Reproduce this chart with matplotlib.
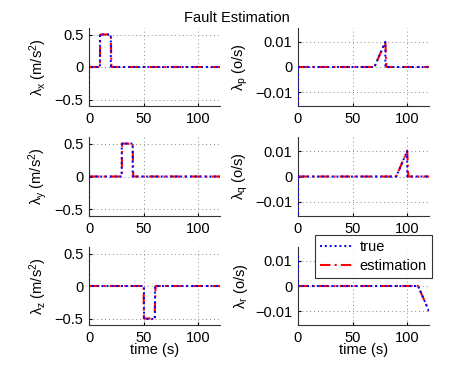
import matplotlib
matplotlib.use("Agg")
import matplotlib.pyplot as plt

plt.rcParams['font.family'] = ['Liberation Sans', 'DejaVu Sans']
plt.rcParams['mathtext.fontset'] = 'custom'
plt.rcParams['mathtext.rm'] = 'Liberation Sans'
plt.rcParams['mathtext.it'] = 'Liberation Sans'
plt.rcParams['axes.unicode_minus'] = True

title = "Fault Estimation"
ylabels = [r"$\lambda_x$ (m/s$^2$)", r"$\lambda_p$ (o/s)",
           r"$\lambda_y$ (m/s$^2$)", r"$\lambda_q$ (o/s)",
           r"$\lambda_z$ (m/s$^2$)", r"$\lambda_r$ (o/s)"]
xlabel = "time (s)"
xticks = [0, 50, 100]
lin_ticks = [-0.5, 0, 0.5]
lin_ticklabels = ["\u22120.5", "0", "0.5"]
ang_ticks = [-0.01, 0, 0.01]
ang_ticklabels = ["\u22120.01", "0", "0.01"]

# true fault profiles (time, value)
tx_t = [0, 0, 0.5, 10, 10, 20, 20, 120]
tx_v = [-0.55, 0.05, 0, 0, 0.5, 0.5, 0, 0]
ex_t = [0, 10, 10.3, 20, 20.5, 120]
ex_v = [0, 0, 0.5, 0.5, 0, 0]

ty_t = [0, 0, 0.5, 30, 30, 40, 40, 120]
ty_v = [-0.55, 0.05, 0, 0, 0.5, 0.5, 0, 0]
ey_t = [0, 30, 30.3, 40, 40.5, 120]
ey_v = [0, 0, 0.5, 0.5, 0, 0]

tz_t = [0, 0, 0.5, 50, 50, 60, 60, 120]
tz_v = [0.55, 0.0, 0, 0, -0.5, -0.5, 0, 0]
ez_t = [0, 50, 50.3, 60, 61, 120]
ez_v = [0, 0, -0.5, -0.5, 0, 0]

tp_t = [0, 0, 0.5, 70, 80, 80, 120]
tp_v = [-0.015, 0.0003, 0, 0, 0.01, 0, 0]
ep_t = [0, 70, 80, 81, 120]
ep_v = [0, 0, 0.01, 0, 0]

tq_t = [0, 0, 0.5, 90, 100, 100, 120]
tq_v = [-0.015, 0.0003, 0, 0, 0.01, 0, 0]
eq_t = [0, 90, 100, 101, 120]
eq_v = [0, 0, 0.01, 0, 0]

tr_t = [0, 0, 0.5, 110, 120]
tr_v = [0.012, 0.0003, 0, 0, -0.01]
er_t = [0, 110, 120]
er_v = [0, 0, -0.01]

panels = [
    (tx_t, tx_v, ex_t, ex_v),
    (tp_t, tp_v, ep_t, ep_v),
    (ty_t, ty_v, ey_t, ey_v),
    (tq_t, tq_v, eq_t, eq_v),
    (tz_t, tz_v, ez_t, ez_v),
    (tr_t, tr_v, er_t, er_v),
]

W, H = 474, 366
fig = plt.figure(figsize=(W / 100, H / 100), dpi=100)

lefts = [89, 298]
tops = [28, 137, 247]
bottoms = [106, 216, 325]
width = 131
FS = 10.5

for i, (tt, tv, et, ev) in enumerate(panels):
    r, c = divmod(i, 2)
    ax = fig.add_axes([lefts[c] / W, 1 - bottoms[r] / H, width / W,
                       (bottoms[r] - tops[r]) / H])
    le, = ax.plot(et, ev, linestyle=(0, (5, 2, 1, 2)), color='red', lw=1.5,
                  label='estimation', zorder=2)
    lt, = ax.plot(tt, tv, linestyle=(0, (1, 1.5)), color='blue', lw=1.4,
                  label='true', zorder=3)
    ax.set_xlim(0, 120)
    ax.set_xticks(xticks)
    if c == 0:
        ax.set_ylim(-0.6, 0.6)
        ax.set_yticks(lin_ticks)
        ax.set_yticklabels(lin_ticklabels)
    else:
        ax.set_ylim(-0.0155, 0.0155)
        ax.set_yticks(ang_ticks)
        ax.set_yticklabels(ang_ticklabels)
    ax.grid(True, linestyle=(0, (1, 3)), color='#888888', lw=0.7)
    ax.spines['top'].set_visible(False)
    ax.spines['right'].set_visible(False)
    ax.spines['left'].set_color('#333333')
    ax.spines['bottom'].set_color('#333333')
    ax.tick_params(labelsize=FS, length=2, direction='in', pad=4)
    ax.set_ylabel(ylabels[i], fontsize=FS, labelpad=4)
    if r == 2:
        ax.set_xlabel(xlabel, fontsize=FS, labelpad=-1)

leg = fig.legend(handles=[lt, le], loc='upper left',
                 bbox_to_anchor=(315 / W, 1 - 235 / H), borderaxespad=0,
                 fontsize=FS, frameon=True, fancybox=False, edgecolor='black',
                 borderpad=0.35, labelspacing=0.35, handlelength=2.2,
                 handletextpad=0.5)
leg.get_frame().set_linewidth(0.8)

fig.text(237 / W, 1 - 18 / H, title, ha='center', va='center', fontsize=FS)

fig.savefig("out.png", dpi=100)
